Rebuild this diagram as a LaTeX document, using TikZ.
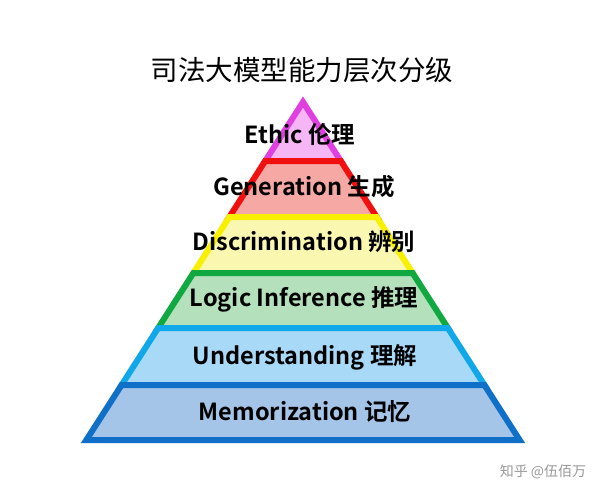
\documentclass[tikz,border=0pt]{standalone}
\usepackage{fontspec}
\newfontfamily\cjk{Noto Sans CJK SC}
\newfontfamily\cjkb{Noto Sans CJK SC Bold}
\begin{document}
\begin{tikzpicture}[x=1pt,y=-1pt,
  band/.style={line width=6pt,line join=miter},
  lab/.style={font=\cjkb\fontsize{23.5}{26}\selectfont,text=black,inner sep=0pt}]
\useasboundingbox (0,0) rectangle (600,496);
\fill[white] (0,0) rectangle (600,496);
\def\ax{303}\def\ay{102}\def\k{0.641}
\foreach \t/\b/\dc/\fc [count=\i] in {102/161/E040E0/F6B6F6, 161/217/F01010/F6A8A4, 217/273/F8F000/FAF8B0, 273/328/10A840/B4E0BC, 328/385/10A8E8/A8DAF8, 385/440/1070C8/A4C4E8}{
  \definecolor{dc\i}{HTML}{\dc}\definecolor{fc\i}{HTML}{\fc}
  \pgfmathsetmacro\wt{\k*(\t-\ay)}\pgfmathsetmacro\wb{\k*(\b-\ay)}
  \draw[band,draw=dc\i,fill=fc\i] (\ax-\wt,\t) -- (\ax+\wt,\t) -- (\ax+\wb,\b) -- (\ax-\wb,\b) -- cycle;
}
\node[font=\cjk\fontsize{27.5}{30}\selectfont] (title) at (302,70) {司法大模型能力层次分级};
\node[lab] (l1) at (300,134) {Ethic 伦理};
\node[lab] (l2) at (304,187) {Generation 生成};
\node[lab] (l3) at (304,242) {Discrimination 辨别};
\node[lab] (l4) at (304,299) {Logic Inference 推理};
\node[lab] (l5) at (305,357) {Understanding 理解};
\node[lab] (l6) at (305,412) {Memorization 记忆};
\node[font=\cjk\fontsize{14}{16}\selectfont,text=gray!80] (wm) at (543,472) {知乎 @伍佰万};
\end{tikzpicture}
\end{document}
